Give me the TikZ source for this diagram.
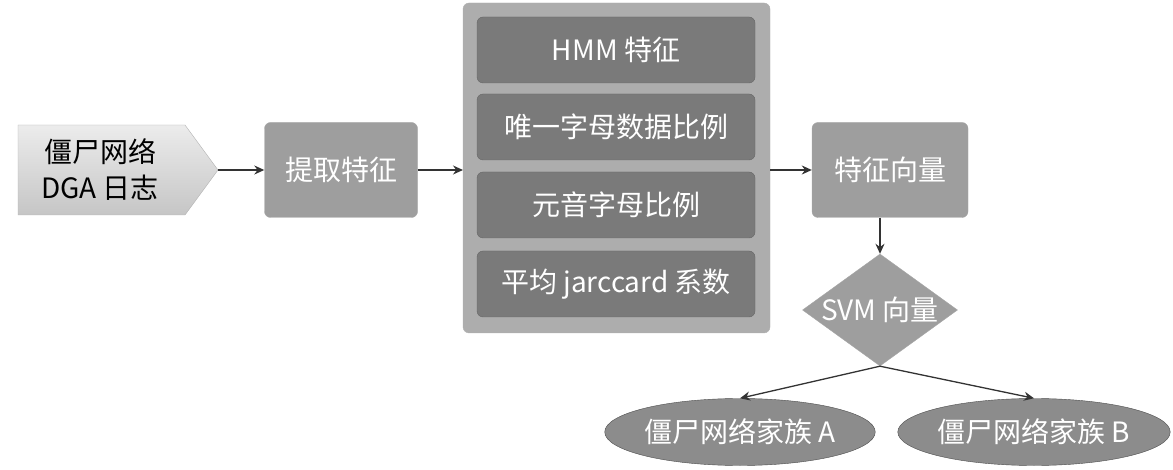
\documentclass[tikz,border=0pt]{standalone}
\usepackage{fontspec}
\setmainfont{Liberation Sans}
\newfontfamily\cjk{Noto Sans CJK SC}
\usetikzlibrary{shapes.geometric,arrows.meta}
\begin{document}
\begin{tikzpicture}[x=1pt,y=-1pt,
  every node/.style={font=\cjk\fontsize{28}{32}\selectfont,text=white},
  gbox/.style={draw=gray!70,fill=black!38,rounded corners=6pt,minimum width=153pt,minimum height=95pt},
  ibox/.style={draw=black!60,fill=black!52,rounded corners=6pt,minimum width=278pt,minimum height=66pt},
  arr/.style={-{Stealth[length=10pt,width=9pt]},line width=1.3pt,black!80}]
\useasboundingbox (0,0) rectangle (1173,470);
\fill[black!32,rounded corners=6pt,draw=gray!60] (463,3) rectangle (770,333);
\node[ibox] (h) at (616,50) {HMM 特征};
\node[ibox] (u) at (616,127) {唯一字母数据比例};
\node[ibox] (v) at (616,205) {元音字母比例};
\node[ibox] (j) at (616,284) {平均 jarccard 系数};
\coordinate (pl) at (463,170);
\coordinate (pr) at (770,170);
\draw[draw=gray!60,top color=gray!15,bottom color=gray!45] (18,125) -- (185,125) -- (218,170) -- (185,215) -- (18,215) -- cycle;
\node[text=black,align=center,font=\cjk\fontsize{28}{36}\selectfont] (log) at (100,170) {僵尸网络\\DGA 日志};
\coordinate (logtip) at (218,170);
\node[gbox] (ext) at (341,170) {提取特征};
\node[gbox,minimum width=156pt] (fv) at (890,170) {特征向量};
\node[diamond,draw=gray!70,fill=black!38,minimum width=155pt,minimum height=112pt,inner sep=0pt] (svm) at (880,310) {};
\node at (880,310) {SVM 向量};
\node[ellipse,draw=black!70,fill=black!45,minimum width=255pt,minimum height=67pt,inner sep=0pt] (a) at (740,432) {僵尸网络家族 A};
\node[ellipse,draw=black!70,fill=black!45,minimum width=257pt,minimum height=67pt,inner sep=0pt] (b) at (1034,432) {僵尸网络家族 B};
\draw[arr] (logtip) -- (ext);
\draw[arr] (ext) -- (pl);
\draw[arr] (pr) -- (fv);
\draw[arr] (fv.south -| svm.north) -- (svm.north);
\draw[arr] (svm.south) -- (a.north);
\draw[arr] (svm.south) -- (b.north);
\end{tikzpicture}
\end{document}
